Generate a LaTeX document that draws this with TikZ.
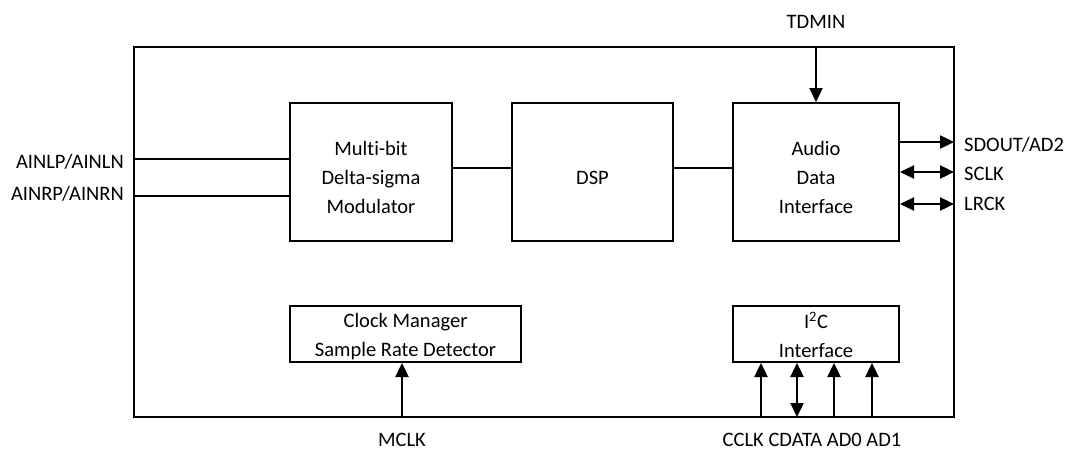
\documentclass[tikz,border=0pt]{standalone}
\usepackage{fontspec}
\setmainfont{Carlito}[Ligatures=NoCommon]
\usetikzlibrary{arrows.meta}
\newcommand\topgap[1]{\rule{0pt}{#1}}
\begin{document}
\begin{tikzpicture}[x=1pt,y=-1pt,
  txt/.style={font=\fontsize{20.5}{29}\selectfont,inner sep=0pt,text=black},
  blk/.style={draw,line width=2pt,align=center,inner sep=0pt,font=\fontsize{20.5}{29}\selectfont},
  wire/.style={line width=2.4pt},
  tip/.style={-{Triangle[length=14pt,width=13pt]}},
  dtip/.style={{Triangle[length=14pt,width=13pt]}-{Triangle[length=14pt,width=13pt]}}]
\useasboundingbox (0,0) rectangle (1080,466);
% frame
\draw[line width=2.4pt] (134,47) rectangle (954,417);
% blocks
\node[blk,minimum width=162pt,minimum height=138pt] (mod) at (371,172) {\topgap{25pt}Multi-bit\\Delta-sigma\\Modulator};
\node[blk,minimum width=161pt,minimum height=138pt] (dsp) at (592.5,172) {\topgap{25pt}DSP};
\node[blk,minimum width=166pt,minimum height=138pt] (aud) at (816,172) {\topgap{25pt}Audio\\Data\\Interface};
\node[blk,minimum width=231pt,minimum height=56pt] (clk) at (405.5,334) {\topgap{19pt}Clock Manager\\Sample Rate Detector};
\node[blk,minimum width=166pt,minimum height=56pt] (i2c) at (816,334) {\topgap{19pt}I\textsuperscript{2}C\\Interface};
% coordinates
\coordinate (midline) at (0,168);
\coordinate (inl) at (134,159);
\coordinate (inr) at (134,196);
\coordinate (sd) at (954,142);
\coordinate (sc) at (954,172);
\coordinate (lr) at (954,204);
\coordinate (td) at (816,47);
\coordinate (mc) at (402,417);
\coordinate (c1) at (761,417);
\coordinate (c2) at (797,417);
\coordinate (c3) at (834,417);
\coordinate (c4) at (872,417);
% connectors
\draw[wire] (inl) -- (mod.west |- inl);
\draw[wire] (inr) -- (mod.west |- inr);
\draw[wire] (mod.east |- midline) -- (dsp.west |- midline);
\draw[wire] (dsp.east |- midline) -- (aud.west |- midline);
\draw[wire,tip] (aud.east |- sd) -- (sd);
\draw[wire,dtip] (aud.east |- sc) -- (sc);
\draw[wire,dtip] (aud.east |- lr) -- (lr);
\draw[wire,tip] (td) -- (aud.north);
\draw[wire,tip] (mc) -- (clk.south -| mc);
\draw[wire,tip] (c1) -- (i2c.south -| c1);
\draw[wire,dtip] (c2) -- (i2c.south -| c2);
\draw[wire,tip] (c3) -- (i2c.south -| c3);
\draw[wire,tip] (c4) -- (i2c.south -| c4);
% labels
\node[txt,anchor=east] (lainl) at (124,162) {AINLP/AINLN};
\node[txt,anchor=east] (lainr) at (124,194) {AINRP/AINRN};
\node[txt,anchor=west] (lsd) at (964,145) {SDOUT/AD2};
\node[txt,anchor=west] (lsc) at (964,174) {SCLK};
\node[txt,anchor=west] (llr) at (964,204) {LRCK};
\node[txt] (ltd) at (816,22) {TDMIN};
\node[txt] (lmc) at (402,440) {MCLK};
\node[txt] (lcc) at (812,440) {CCLK CDATA AD0 AD1};
\end{tikzpicture}
\end{document}
